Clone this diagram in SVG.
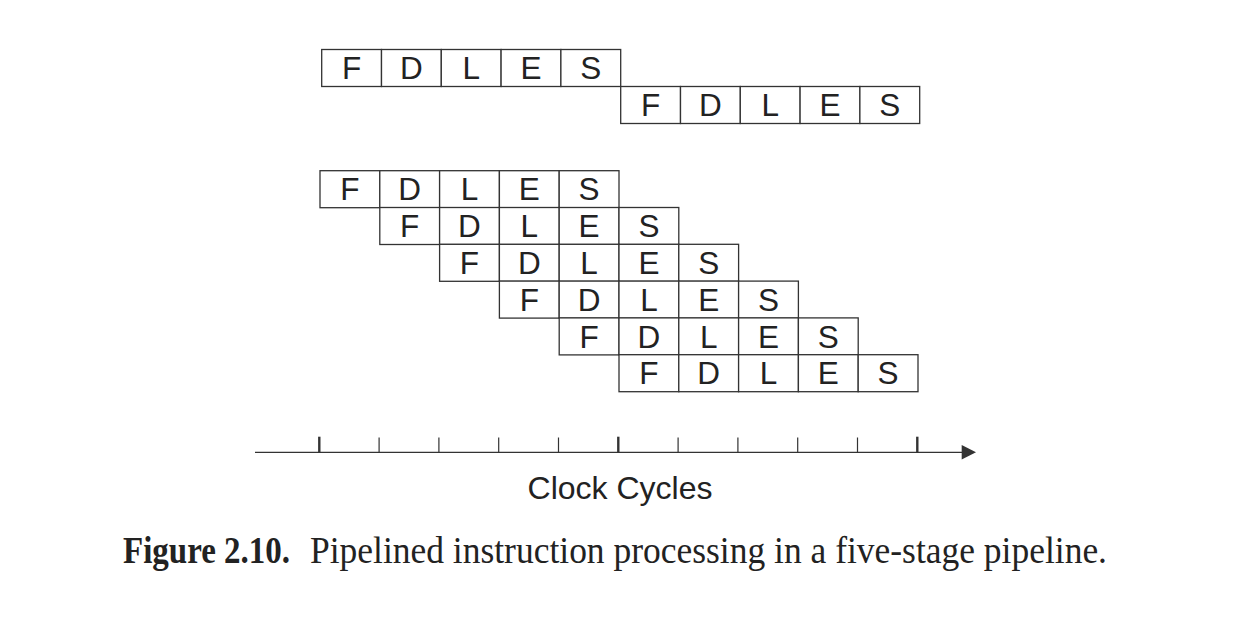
<svg xmlns="http://www.w3.org/2000/svg" width="1256" height="617" viewBox="0 0 1256 617">
<style>
.c{fill:#fff;stroke:#333;stroke-width:1.3}
.t{font-family:"Liberation Sans",Arial,sans-serif;font-size:31.5px;fill:#222;text-anchor:middle}
.ax{stroke:#333;stroke-width:1.3;fill:none}
.tk{stroke:#333;stroke-width:1.2}
.tkb{stroke:#333;stroke-width:2.4}
</style>
<defs>
<g id="row">
<rect class="c" x="0" y="0" width="59.8" height="37"/>
<rect class="c" x="59.8" y="0" width="59.8" height="37"/>
<rect class="c" x="119.6" y="0" width="59.8" height="37"/>
<rect class="c" x="179.4" y="0" width="59.8" height="37"/>
<rect class="c" x="239.2" y="0" width="59.8" height="37"/>
<text class="t" x="29.9" y="29.8">F</text>
<text class="t" x="89.7" y="29.8">D</text>
<text class="t" x="149.5" y="29.8">L</text>
<text class="t" x="209.3" y="29.8">E</text>
<text class="t" x="269.1" y="29.8">S</text>
</g>
</defs>
<rect width="1256" height="617" fill="#fff"/>
<g id="seq1"><use href="#row" x="321.7" y="49.5"/></g>
<g id="seq2"><use href="#row" x="620.7" y="86.5"/></g>
<g id="pipe1"><use href="#row" x="320" y="170.7"/></g>
<g id="pipe2"><use href="#row" x="379.8" y="207.5"/></g>
<g id="pipe3"><use href="#row" x="439.6" y="244.3"/></g>
<g id="pipe4"><use href="#row" x="499.4" y="281.1"/></g>
<g id="pipe5"><use href="#row" x="559.2" y="317.9"/></g>
<g id="pipe6"><use href="#row" x="619" y="354.7"/></g>
<g id="connectors">
<line class="ax" x1="255" y1="452.3" x2="963" y2="452.3"/>
<polygon points="961.7,445 976,452.3 961.7,459.6" fill="#333"/>
<line class="tkb" x1="319.3" y1="436.7" x2="319.3" y2="452.3"/>
<line class="tk" x1="379.1" y1="437.5" x2="379.1" y2="452.3"/>
<line class="tk" x1="438.9" y1="437.5" x2="438.9" y2="452.3"/>
<line class="tk" x1="498.7" y1="437.5" x2="498.7" y2="452.3"/>
<line class="tk" x1="558.5" y1="437.5" x2="558.5" y2="452.3"/>
<line class="tkb" x1="618.3" y1="436.7" x2="618.3" y2="452.3"/>
<line class="tk" x1="678.1" y1="437.5" x2="678.1" y2="452.3"/>
<line class="tk" x1="737.9" y1="437.5" x2="737.9" y2="452.3"/>
<line class="tk" x1="797.7" y1="437.5" x2="797.7" y2="452.3"/>
<line class="tk" x1="857.5" y1="437.5" x2="857.5" y2="452.3"/>
<line class="tkb" x1="917.3" y1="436.7" x2="917.3" y2="452.3"/>
</g>
<text x="620" y="499.3" font-family="'Liberation Sans',Arial,sans-serif" font-size="32" fill="#222" text-anchor="middle">Clock Cycles</text>
<text x="123" y="562.5" font-family="'Liberation Serif','Times New Roman',serif" font-size="37" fill="#222"><tspan font-weight="bold" textLength="167" lengthAdjust="spacingAndGlyphs">Figure 2.10.</tspan><tspan x="310" textLength="797" lengthAdjust="spacingAndGlyphs">Pipelined instruction processing in a five-stage pipeline.</tspan></text>
</svg>
